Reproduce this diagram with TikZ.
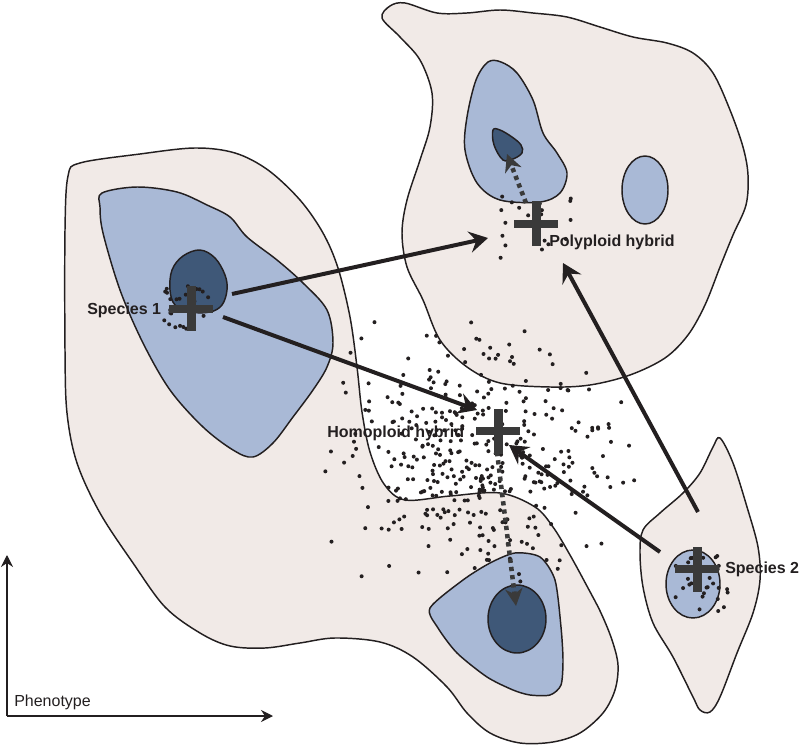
\documentclass[tikz,border=0pt]{standalone}
\usepackage{fontspec}
\setmainfont{Liberation Sans}
\usetikzlibrary{arrows.meta}
\definecolor{pinkc}{HTML}{F1EAE7}
\definecolor{bluec}{HTML}{A9B9D6}
\definecolor{darkc}{HTML}{3F5878}
\definecolor{crossc}{HTML}{3A3A3A}
\definecolor{inkc}{HTML}{231F20}
\tikzset{
  region/.style={draw=inkc, line width=1.1pt},
  bigarrow/.style={draw=inkc, line width=3pt, -{Stealth[length=14pt,width=16pt,inset=5pt]}},
  dotarrow/.style={draw=crossc, line width=3.4pt, dash pattern=on 3.2pt off 3pt, -{Stealth[length=13pt,width=13pt,inset=4pt]}},
  axisarrow/.style={draw=inkc, line width=0.8pt, -{Stealth[length=9pt,width=9pt,inset=3pt]}},
  lab/.style={font=\bfseries\fontsize{12pt}{14pt}\selectfont, text=inkc, inner sep=0pt, anchor=base west},
  crossmark/.pic={\fill[crossc] (-22,-4.3) rectangle (22,4.3); \fill[crossc] (-4.5,-22.5) rectangle (4.5,22.5);},
  dotc/.style={fill=inkc},
}
\begin{document}
\begin{tikzpicture}[x=0.75pt,y=-0.75pt, line join=round]
\useasboundingbox (0,0) rectangle (800,745);
% big left / lower shape
\draw[region, fill=pinkc] plot[smooth cycle, tension=0.55] coordinates {
 (68,176) (80,163) (140,154) (195,148) (235,153) (268,170) (300,200) (323,233) (338,268) (350,317)
 (357,367) (362,412) (370,452) (384,484) (405,500) (450,496) (500,493) (535,507) (553,527) (570,555)
 (588,588) (601,613) (612,640) (618,665) (615,690) (603,713) (580,733) (553,742) (520,743) (490,733)
 (467,713) (447,687) (413,657) (380,642) (335,638) (300,643) (265,648) (230,646) (200,633) (165,607)
 (133,563) (100,513) (77,463) (67,413) (65,350) (65,230)};
% top shape
\draw[region, fill=pinkc] plot[smooth cycle, tension=0.55] coordinates {
 (382,18) (390,6) (405,3) (437,13) (467,13) (500,10) (533,13) (567,17) (600,27) (633,37) (667,43)
 (693,53) (713,73) (730,110) (743,147) (748,175) (746,205) (733,235) (720,267) (705,305) (688,335)
 (665,358) (630,375) (590,385) (550,387) (500,383) (467,367) (440,340) (423,300) (407,267) (402,233)
 (407,200) (420,160) (430,127) (432,93) (420,60) (400,37)};
% species 2 shape
\draw[region, fill=pinkc] plot[smooth cycle, tension=0.55] coordinates {
 (720,438) (733,463) (747,507) (758,547) (760,580) (753,613) (737,653) (720,697) (710,712) (700,710)
 (693,697) (673,657) (653,623) (643,587) (640,553) (643,530) (660,513) (683,493) (700,473) (713,447)};
% blue regions
\draw[region, fill=bluec] plot[smooth cycle, tension=0.55] coordinates {
 (102,193) (137,187) (177,192) (207,205) (230,217) (247,237) (277,260) (303,283) (327,310) (333,343)
 (327,367) (313,390) (293,417) (273,443) (253,457) (233,450) (203,427) (170,390) (143,343) (120,290)
 (103,233) (100,207)};
\draw[region, fill=bluec] plot[smooth cycle, tension=0.55] coordinates {
 (488,62) (476,80) (467,117) (465,150) (477,183) (500,200) (540,202) (560,193) (567,173) (557,153)
 (543,133) (533,100) (517,73) (501,62)};
\draw[region, fill=bluec] (645,190) ellipse [x radius=23, y radius=34];
\draw[region, fill=bluec] plot[smooth cycle, tension=0.45] coordinates {
 (430,608) (463,580) (490,563) (515,553) (540,557) (555,580) (561,627) (563,660) (561,685) (550,695)
 (530,695) (513,690) (487,677) (457,653) (438,628)};
\draw[region, fill=bluec] (693,584) ellipse [x radius=27, y radius=34];
% dark regions
\draw[region, fill=darkc] plot[smooth cycle, tension=0.6] coordinates {
 (200,250) (215,258) (225,275) (227,290) (222,305) (210,312) (190,312) (175,305) (170,290) (172,270) (183,256)};
\draw[region, fill=darkc] plot[smooth cycle, tension=0.6] coordinates {
 (493,130) (494,145) (503,160) (513,159) (522,153) (521,145) (512,137) (500,130)};
\draw[region, fill=darkc] (517,619) ellipse [x radius=29, y radius=34];
% dots
\pgfmathsetseed{4711}
\foreach \i in {1,...,390}{
  \pgfmathsetmacro\px{480+80*(rand+rand)}
  \pgfmathsetmacro\py{455+68*(rand+rand)}
  \fill[dotc] (\px,\py) circle (1.5pt);
}
\foreach \i in {1,...,24}{
  \pgfmathsetmacro\px{186+24*rand}
  \pgfmathsetmacro\py{308+22*rand}
  \fill[dotc] (\px,\py) circle (1.5pt);
}
\foreach \i in {1,...,22}{
  \pgfmathsetmacro\px{536+36*rand}
  \pgfmathsetmacro\py{228+32*rand}
  \fill[dotc] (\px,\py) circle (1.5pt);
}
\foreach \i in {1,...,28}{
  \pgfmathsetmacro\px{700+28*rand}
  \pgfmathsetmacro\py{585+32*rand}
  \fill[dotc] (\px,\py) circle (1.5pt);
}
% crosses
\pic at (191,309) {crossmark};
\pic at (498,431) {crossmark};
\pic at (536,224) {crossmark};
\pic at (697,569) {crossmark};
% connector end points
\coordinate (s1up) at (232,294);
\coordinate (s1dn) at (223,317);
\coordinate (polyin) at (488,238);
\coordinate (homoin) at (477,410);
\coordinate (homoin2) at (509,445);
\coordinate (polyin2) at (563,263);
\coordinate (s2up) at (698,512);
\coordinate (s2dn) at (660,552);
\coordinate (polytop) at (526,203);
\coordinate (polytarget) at (507,154);
\coordinate (homobot) at (497,452);
\coordinate (lowtarget) at (516,606);
\coordinate (origin) at (7,716);
\coordinate (ytip) at (7,555);
\coordinate (xtip) at (273,716);
% arrows
\draw[bigarrow] (s1up) -- (polyin);
\draw[bigarrow] (s1dn) -- (homoin);
\draw[bigarrow] (s2dn) -- (homoin2);
\draw[bigarrow] (s2up) -- (polyin2);
\draw[dotarrow] (polytop) -- (polytarget);
\draw[dotarrow] (homobot) -- (lowtarget);
\draw[axisarrow] (origin) -- (ytip);
\draw[axisarrow] (origin) -- (xtip);
% labels
\node[lab] (lpoly) at (549,247) {Polyploid hybrid};
\node[lab] (lhomo) at (327,437) {Homoploid hybrid};
\node[lab] (ls1) at (87,315) {Species 1};
\node[lab] (ls2) at (725,573) {Species 2};
\node[lab, font=\fontsize{12pt}{14pt}\selectfont] (lphen) at (14,706) {Phenotype};
\end{tikzpicture}
\end{document}
